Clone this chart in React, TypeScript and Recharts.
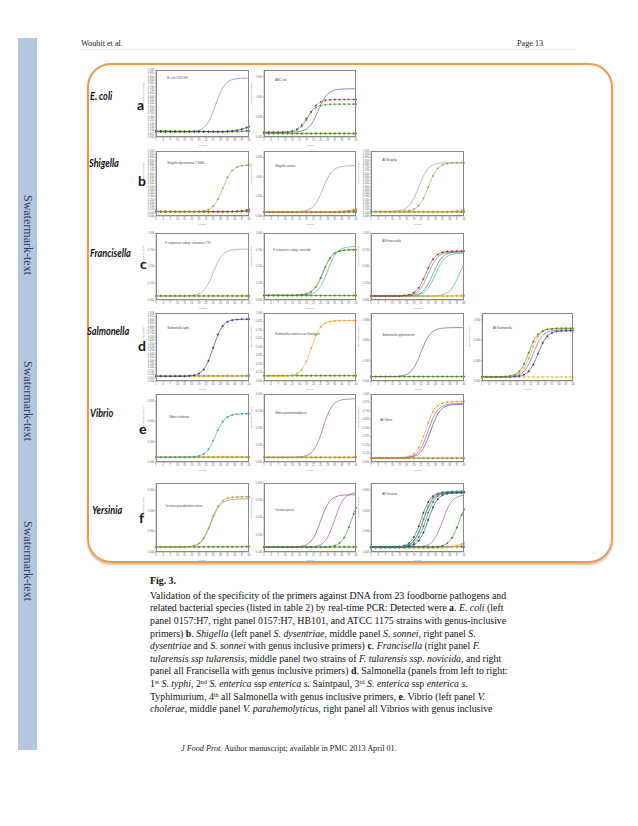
import React from 'react';
import { LineChart, Line, XAxis, YAxis } from 'recharts';

// qPCR amplification plots, Fig. 3 (Woubit et al.) – values are relative dRn
const CYCLES = [1, 3, 5, 7, 9, 11, 13, 15, 17, 19, 21, 23, 25, 27, 29, 31, 33, 35, 37, 39, 40];
const X_TICKS = [1, 4, 7, 10, 13, 16, 19, 22, 25, 28, 31, 34, 37, 40];

const Y_FINE = [0, 0.05, 0.1, 0.15, 0.2, 0.25, 0.3, 0.35, 0.4, 0.45, 0.5, 0.55, 0.6, 0.65, 0.7, 0.75, 0.8, 0.85, 0.9, 0.95, 1];
const Y_MID = [0, 0.125, 0.25, 0.375, 0.5, 0.625, 0.75, 0.875, 1];
const Y_QUAR = [0, 0.25, 0.5, 0.75, 1];
const Y_THIRD = [0, 0.3, 0.6, 0.9];

// a. E. coli
const A1_BLUE = [0.08, 0.08, 0.08, 0.08, 0.08, 0.08, 0.08, 0.082, 0.089, 0.103, 0.141, 0.226, 0.382, 0.578, 0.734, 0.819, 0.857, 0.871, 0.877, 0.879, 0.88];
const A1_NAVY_LATE = [0.08, 0.08, 0.08, 0.08, 0.08, 0.08, 0.08, 0.08, 0.08, 0.08, 0.08, 0.08, 0.08, 0.08, 0.08, 0.085, 0.09, 0.1, 0.115, 0.14, 0.155];
const A1_GREEN = [0.095, 0.093, 0.09, 0.088, 0.087, 0.086, 0.085, 0.085, 0.084, 0.084, 0.083, 0.083, 0.083, 0.082, 0.082, 0.082, 0.082, 0.083, 0.085, 0.088, 0.09];
const A1_YELLOW = [0.075, 0.075, 0.075, 0.075, 0.075, 0.075, 0.075, 0.075, 0.075, 0.075, 0.075, 0.075, 0.075, 0.075, 0.075, 0.075, 0.075, 0.078, 0.082, 0.088, 0.092];

const A2_BLUE = [0.07, 0.07, 0.07, 0.07, 0.07, 0.07, 0.07, 0.077, 0.089, 0.119, 0.188, 0.316, 0.474, 0.602, 0.671, 0.701, 0.713, 0.717, 0.719, 0.72, 0.72];
const A2_RED = [0.07, 0.07, 0.07, 0.07, 0.07, 0.075, 0.084, 0.107, 0.159, 0.255, 0.375, 0.471, 0.523, 0.546, 0.555, 0.558, 0.559, 0.56, 0.56, 0.56, 0.56];
const A2_GREEN = [0.07, 0.07, 0.07, 0.07, 0.073, 0.078, 0.09, 0.12, 0.183, 0.28, 0.377, 0.44, 0.47, 0.482, 0.487, 0.489, 0.49, 0.49, 0.49, 0.49, 0.49];
const A2_BASE_Y = [0.058, 0.058, 0.058, 0.058, 0.058, 0.058, 0.058, 0.058, 0.058, 0.058, 0.058, 0.058, 0.058, 0.058, 0.058, 0.058, 0.058, 0.058, 0.058, 0.058, 0.058];
const A2_BASE_G = [0.05, 0.05, 0.05, 0.05, 0.05, 0.05, 0.05, 0.05, 0.05, 0.05, 0.05, 0.05, 0.05, 0.05, 0.05, 0.05, 0.05, 0.05, 0.05, 0.05, 0.05];

// b. Shigella
const B1_OLIVE = [0.066, 0.066, 0.066, 0.066, 0.066, 0.066, 0.066, 0.066, 0.066, 0.071, 0.079, 0.1, 0.152, 0.26, 0.426, 0.592, 0.7, 0.752, 0.773, 0.781, 0.783];
const B1_RED = [0.066, 0.066, 0.066, 0.066, 0.066, 0.066, 0.066, 0.066, 0.066, 0.066, 0.066, 0.066, 0.066, 0.066, 0.066, 0.066, 0.068, 0.072, 0.08, 0.09, 0.1];
const B1_GREEN = [0.075, 0.073, 0.072, 0.071, 0.07, 0.07, 0.07, 0.07, 0.07, 0.07, 0.07, 0.07, 0.07, 0.07, 0.07, 0.07, 0.07, 0.07, 0.07, 0.07, 0.07];
const B1_YELLOW = [0.062, 0.062, 0.062, 0.062, 0.062, 0.062, 0.062, 0.062, 0.062, 0.062, 0.062, 0.062, 0.062, 0.062, 0.062, 0.062, 0.062, 0.062, 0.062, 0.062, 0.062];

const B2_GRAY = [0.065, 0.065, 0.065, 0.065, 0.065, 0.065, 0.065, 0.068, 0.073, 0.086, 0.119, 0.194, 0.333, 0.507, 0.646, 0.721, 0.754, 0.767, 0.772, 0.774, 0.775];
const B2_ORANGE = [0.065, 0.065, 0.065, 0.065, 0.065, 0.065, 0.065, 0.065, 0.065, 0.065, 0.065, 0.065, 0.065, 0.065, 0.065, 0.067, 0.07, 0.075, 0.085, 0.1, 0.115];
const B2_RED = [0.06, 0.06, 0.06, 0.06, 0.06, 0.06, 0.06, 0.06, 0.06, 0.06, 0.06, 0.06, 0.06, 0.06, 0.06, 0.06, 0.062, 0.066, 0.072, 0.08, 0.088];
const B2_GREEN = [0.06, 0.06, 0.06, 0.06, 0.06, 0.06, 0.06, 0.06, 0.06, 0.06, 0.06, 0.06, 0.06, 0.06, 0.06, 0.06, 0.06, 0.06, 0.06, 0.06, 0.06];

const B3_GRAY = [0.07, 0.07, 0.07, 0.07, 0.07, 0.075, 0.084, 0.105, 0.159, 0.272, 0.445, 0.618, 0.731, 0.785, 0.807, 0.815, 0.818, 0.819, 0.82, 0.82, 0.82];
const B3_OLIVE = [0.07, 0.07, 0.07, 0.07, 0.07, 0.07, 0.07, 0.075, 0.084, 0.105, 0.159, 0.272, 0.445, 0.618, 0.731, 0.785, 0.807, 0.815, 0.818, 0.819, 0.82];
const B3_ORANGE = [0.065, 0.065, 0.065, 0.065, 0.065, 0.065, 0.065, 0.065, 0.065, 0.065, 0.065, 0.065, 0.065, 0.065, 0.065, 0.065, 0.067, 0.071, 0.078, 0.09, 0.1];
const B3_GREEN = [0.065, 0.065, 0.065, 0.065, 0.065, 0.065, 0.065, 0.065, 0.065, 0.065, 0.065, 0.065, 0.065, 0.065, 0.065, 0.065, 0.065, 0.065, 0.065, 0.065, 0.065];
const B3_YELLOW = [0.06, 0.06, 0.06, 0.06, 0.06, 0.06, 0.06, 0.06, 0.06, 0.06, 0.06, 0.06, 0.06, 0.06, 0.06, 0.06, 0.06, 0.06, 0.06, 0.06, 0.06];

// c. Francisella
const C1_GRAY = [0.06, 0.06, 0.06, 0.06, 0.06, 0.06, 0.06, 0.065, 0.073, 0.093, 0.143, 0.248, 0.41, 0.572, 0.677, 0.727, 0.747, 0.755, 0.758, 0.759, 0.76];
const C1_GREEN = [0.062, 0.062, 0.062, 0.062, 0.062, 0.062, 0.062, 0.062, 0.062, 0.062, 0.062, 0.062, 0.062, 0.062, 0.062, 0.062, 0.062, 0.062, 0.062, 0.062, 0.062];
const C1_YELLOW = [0.056, 0.056, 0.056, 0.056, 0.056, 0.056, 0.056, 0.056, 0.056, 0.056, 0.056, 0.056, 0.056, 0.056, 0.056, 0.056, 0.056, 0.056, 0.056, 0.056, 0.056];

const C2_GREEN = [0.07, 0.07, 0.07, 0.07, 0.07, 0.07, 0.07, 0.072, 0.077, 0.09, 0.122, 0.194, 0.327, 0.493, 0.626, 0.698, 0.73, 0.743, 0.748, 0.749, 0.75];
const C2_YELLOW = [0.075, 0.075, 0.075, 0.075, 0.075, 0.075, 0.075, 0.075, 0.082, 0.097, 0.132, 0.21, 0.345, 0.51, 0.635, 0.7, 0.728, 0.74, 0.745, 0.747, 0.748];
const C2_TEAL = [0.07, 0.07, 0.07, 0.07, 0.07, 0.07, 0.07, 0.07, 0.07, 0.078, 0.091, 0.125, 0.203, 0.346, 0.524, 0.667, 0.745, 0.779, 0.792, 0.797, 0.798];
const C2_BASE_G = [0.068, 0.068, 0.068, 0.068, 0.068, 0.068, 0.068, 0.068, 0.068, 0.068, 0.068, 0.068, 0.068, 0.068, 0.068, 0.068, 0.068, 0.068, 0.068, 0.068, 0.068];
const C2_BASE_Y = [0.063, 0.063, 0.063, 0.063, 0.063, 0.063, 0.063, 0.063, 0.063, 0.063, 0.063, 0.063, 0.063, 0.063, 0.063, 0.063, 0.063, 0.063, 0.063, 0.063, 0.063];

const C3_RED = [0.06, 0.06, 0.06, 0.06, 0.06, 0.06, 0.06, 0.067, 0.079, 0.111, 0.182, 0.313, 0.477, 0.608, 0.679, 0.711, 0.723, 0.727, 0.729, 0.73, 0.73];
const C3_GREEN = [0.06, 0.06, 0.06, 0.06, 0.06, 0.06, 0.06, 0.064, 0.072, 0.091, 0.139, 0.238, 0.39, 0.542, 0.641, 0.689, 0.708, 0.716, 0.718, 0.719, 0.72];
const C3_TEAL = [0.06, 0.06, 0.06, 0.06, 0.06, 0.06, 0.06, 0.06, 0.06, 0.067, 0.079, 0.109, 0.176, 0.302, 0.458, 0.584, 0.651, 0.681, 0.693, 0.697, 0.698];
const C3_BLUE = [0.06, 0.06, 0.06, 0.06, 0.06, 0.06, 0.06, 0.06, 0.064, 0.072, 0.091, 0.139, 0.238, 0.39, 0.542, 0.641, 0.689, 0.708, 0.716, 0.718, 0.72];
const C3_TEAL_LATE = [0.06, 0.06, 0.06, 0.06, 0.06, 0.06, 0.06, 0.06, 0.06, 0.06, 0.06, 0.06, 0.06, 0.06, 0.067, 0.079, 0.109, 0.178, 0.306, 0.464, 0.535];
const C3_ORANGE = [0.06, 0.06, 0.06, 0.06, 0.06, 0.06, 0.06, 0.06, 0.06, 0.06, 0.06, 0.06, 0.06, 0.06, 0.06, 0.06, 0.062, 0.064, 0.067, 0.07, 0.072];
const C3_YELLOW = [0.055, 0.055, 0.055, 0.055, 0.055, 0.055, 0.055, 0.055, 0.055, 0.055, 0.055, 0.055, 0.055, 0.055, 0.055, 0.055, 0.055, 0.055, 0.055, 0.055, 0.055];

// d. Salmonella
const D1_NAVY = [0.07, 0.07, 0.07, 0.07, 0.07, 0.07, 0.07, 0.076, 0.085, 0.109, 0.17, 0.296, 0.49, 0.684, 0.81, 0.871, 0.895, 0.904, 0.908, 0.909, 0.91];
const D1_ORANGE = [0.07, 0.07, 0.07, 0.07, 0.07, 0.07, 0.07, 0.07, 0.07, 0.07, 0.07, 0.07, 0.07, 0.07, 0.07, 0.07, 0.07, 0.072, 0.076, 0.082, 0.09];
const D1_GREEN = [0.075, 0.075, 0.075, 0.075, 0.075, 0.075, 0.075, 0.075, 0.075, 0.075, 0.075, 0.075, 0.075, 0.075, 0.075, 0.075, 0.075, 0.075, 0.075, 0.075, 0.075];

const D2_ORANGE = [0.07, 0.07, 0.07, 0.07, 0.07, 0.076, 0.085, 0.109, 0.168, 0.291, 0.48, 0.669, 0.792, 0.851, 0.875, 0.884, 0.888, 0.889, 0.89, 0.89, 0.89];
const D2_GREEN = [0.08, 0.08, 0.08, 0.08, 0.08, 0.08, 0.08, 0.08, 0.08, 0.08, 0.08, 0.08, 0.08, 0.08, 0.08, 0.08, 0.08, 0.08, 0.08, 0.08, 0.08];
const D2_YELLOW = [0.074, 0.074, 0.074, 0.074, 0.074, 0.074, 0.074, 0.074, 0.074, 0.074, 0.074, 0.074, 0.074, 0.074, 0.074, 0.074, 0.074, 0.074, 0.074, 0.074, 0.074];

const D3_MAROON = [0.065, 0.065, 0.065, 0.065, 0.065, 0.065, 0.073, 0.086, 0.12, 0.196, 0.337, 0.513, 0.654, 0.73, 0.764, 0.777, 0.782, 0.784, 0.785, 0.785, 0.785];
const D3_GREEN = [0.066, 0.066, 0.066, 0.066, 0.066, 0.066, 0.066, 0.066, 0.066, 0.066, 0.066, 0.066, 0.066, 0.066, 0.066, 0.066, 0.066, 0.066, 0.066, 0.066, 0.066];
const D3_YELLOW = [0.062, 0.062, 0.062, 0.062, 0.062, 0.062, 0.062, 0.062, 0.062, 0.062, 0.062, 0.062, 0.062, 0.062, 0.062, 0.062, 0.062, 0.062, 0.062, 0.062, 0.062];

const D4_GREEN = [0.06, 0.06, 0.06, 0.06, 0.06, 0.065, 0.073, 0.093, 0.144, 0.251, 0.415, 0.579, 0.686, 0.737, 0.757, 0.765, 0.768, 0.769, 0.77, 0.77, 0.77];
const D4_YELLOW = [0.06, 0.06, 0.06, 0.06, 0.06, 0.06, 0.068, 0.081, 0.115, 0.191, 0.332, 0.508, 0.649, 0.725, 0.759, 0.772, 0.777, 0.779, 0.78, 0.78, 0.78];
const D4_PURPLE = [0.06, 0.06, 0.06, 0.06, 0.06, 0.06, 0.065, 0.072, 0.092, 0.142, 0.246, 0.405, 0.564, 0.668, 0.718, 0.738, 0.745, 0.748, 0.749, 0.75, 0.75];
const D4_NAVY = [0.06, 0.06, 0.06, 0.06, 0.06, 0.06, 0.06, 0.065, 0.072, 0.092, 0.141, 0.243, 0.4, 0.557, 0.659, 0.708, 0.728, 0.735, 0.738, 0.739, 0.74];
const D4_BASE = [0.058, 0.058, 0.058, 0.058, 0.058, 0.058, 0.058, 0.058, 0.058, 0.058, 0.058, 0.058, 0.058, 0.058, 0.058, 0.058, 0.058, 0.058, 0.058, 0.058, 0.058];

// e. Vibrio
const E1_TEAL = [0.07, 0.07, 0.07, 0.07, 0.07, 0.07, 0.07, 0.072, 0.077, 0.089, 0.119, 0.186, 0.312, 0.468, 0.594, 0.661, 0.691, 0.703, 0.707, 0.709, 0.71];
const E1_ORANGE = [0.076, 0.076, 0.076, 0.076, 0.076, 0.076, 0.076, 0.076, 0.076, 0.076, 0.076, 0.076, 0.076, 0.076, 0.076, 0.076, 0.076, 0.076, 0.076, 0.076, 0.076];
const E1_GREEN = [0.07, 0.07, 0.07, 0.07, 0.07, 0.07, 0.07, 0.07, 0.07, 0.07, 0.07, 0.07, 0.07, 0.07, 0.07, 0.07, 0.07, 0.07, 0.07, 0.07, 0.07];

const E2_PURPLE = [0.07, 0.07, 0.07, 0.07, 0.07, 0.07, 0.07, 0.073, 0.079, 0.095, 0.135, 0.227, 0.395, 0.605, 0.773, 0.865, 0.905, 0.92, 0.926, 0.929, 0.93];
const E2_ORANGE = [0.072, 0.072, 0.072, 0.072, 0.072, 0.072, 0.072, 0.072, 0.072, 0.072, 0.072, 0.072, 0.072, 0.072, 0.072, 0.072, 0.072, 0.072, 0.072, 0.072, 0.072];
const E2_GREEN = [0.066, 0.066, 0.066, 0.066, 0.066, 0.066, 0.066, 0.066, 0.066, 0.066, 0.066, 0.066, 0.066, 0.066, 0.066, 0.066, 0.066, 0.066, 0.066, 0.066, 0.066];

const E3_ORANGE = [0.06, 0.06, 0.06, 0.06, 0.06, 0.06, 0.06, 0.069, 0.084, 0.123, 0.211, 0.374, 0.576, 0.739, 0.827, 0.866, 0.881, 0.886, 0.888, 0.889, 0.89];
const E3_NAVY = [0.06, 0.06, 0.06, 0.06, 0.06, 0.06, 0.06, 0.06, 0.069, 0.083, 0.12, 0.204, 0.359, 0.551, 0.706, 0.79, 0.827, 0.841, 0.846, 0.848, 0.849];
const E3_PURPLE = [0.06, 0.06, 0.06, 0.06, 0.06, 0.06, 0.06, 0.065, 0.074, 0.098, 0.155, 0.275, 0.46, 0.645, 0.765, 0.822, 0.846, 0.854, 0.858, 0.859, 0.86];
const E3_BASE_O = [0.062, 0.062, 0.062, 0.062, 0.062, 0.062, 0.062, 0.062, 0.062, 0.062, 0.062, 0.062, 0.062, 0.062, 0.062, 0.062, 0.062, 0.062, 0.062, 0.062, 0.062];
const E3_BASE_G = [0.056, 0.056, 0.056, 0.056, 0.056, 0.056, 0.056, 0.056, 0.056, 0.056, 0.056, 0.056, 0.056, 0.056, 0.056, 0.056, 0.056, 0.056, 0.056, 0.056, 0.056];

// f. Yersinia
const F1_OLIVE = [0.07, 0.07, 0.07, 0.07, 0.07, 0.07, 0.07, 0.078, 0.091, 0.125, 0.203, 0.346, 0.524, 0.667, 0.745, 0.779, 0.792, 0.797, 0.799, 0.8, 0.8];
const F1_DARK = [0.07, 0.07, 0.07, 0.07, 0.07, 0.07, 0.07, 0.076, 0.088, 0.12, 0.195, 0.33, 0.5, 0.64, 0.715, 0.748, 0.762, 0.767, 0.769, 0.77, 0.77];
const F1_GREEN = [0.076, 0.076, 0.076, 0.076, 0.076, 0.076, 0.076, 0.076, 0.076, 0.076, 0.076, 0.076, 0.076, 0.076, 0.076, 0.076, 0.076, 0.076, 0.076, 0.076, 0.076];
const F1_YELLOW = [0.07, 0.07, 0.07, 0.07, 0.07, 0.07, 0.07, 0.07, 0.07, 0.07, 0.07, 0.07, 0.07, 0.07, 0.07, 0.07, 0.072, 0.075, 0.079, 0.084, 0.088];

const F2_RED = [0.07, 0.07, 0.07, 0.07, 0.07, 0.07, 0.07, 0.075, 0.084, 0.106, 0.16, 0.274, 0.45, 0.626, 0.74, 0.794, 0.816, 0.825, 0.828, 0.829, 0.83];
const F2_PURPLE = [0.07, 0.07, 0.07, 0.07, 0.07, 0.07, 0.07, 0.07, 0.07, 0.07, 0.075, 0.084, 0.108, 0.165, 0.285, 0.47, 0.655, 0.775, 0.832, 0.856, 0.861];
const F2_GREEN_LATE = [0.07, 0.07, 0.07, 0.07, 0.07, 0.07, 0.07, 0.07, 0.07, 0.07, 0.07, 0.07, 0.07, 0.07, 0.078, 0.092, 0.128, 0.21, 0.36, 0.55, 0.64];
const F2_BASE_G = [0.074, 0.074, 0.074, 0.074, 0.074, 0.074, 0.074, 0.074, 0.074, 0.074, 0.074, 0.074, 0.074, 0.074, 0.074, 0.074, 0.074, 0.074, 0.074, 0.074, 0.074];
const F2_BASE_Y = [0.068, 0.068, 0.068, 0.068, 0.068, 0.068, 0.068, 0.068, 0.068, 0.068, 0.068, 0.068, 0.068, 0.068, 0.068, 0.068, 0.068, 0.068, 0.068, 0.068, 0.068];

const F3_TEAL = [0.07, 0.07, 0.07, 0.07, 0.07, 0.07, 0.075, 0.085, 0.108, 0.166, 0.288, 0.475, 0.662, 0.784, 0.842, 0.865, 0.874, 0.878, 0.879, 0.88, 0.88];
const F3_BLACK = [0.07, 0.07, 0.07, 0.07, 0.07, 0.07, 0.079, 0.093, 0.131, 0.216, 0.372, 0.568, 0.724, 0.809, 0.847, 0.861, 0.867, 0.869, 0.87, 0.87, 0.87];
const F3_RED = [0.07, 0.07, 0.07, 0.07, 0.07, 0.07, 0.075, 0.084, 0.107, 0.164, 0.283, 0.465, 0.647, 0.766, 0.823, 0.845, 0.854, 0.857, 0.859, 0.86, 0.86];
const F3_GREEN = [0.07, 0.07, 0.07, 0.07, 0.07, 0.07, 0.07, 0.079, 0.093, 0.131, 0.216, 0.372, 0.568, 0.724, 0.809, 0.847, 0.861, 0.867, 0.869, 0.87, 0.87];
const F3_NAVY = [0.07, 0.07, 0.07, 0.07, 0.07, 0.07, 0.07, 0.075, 0.084, 0.107, 0.164, 0.283, 0.465, 0.647, 0.766, 0.823, 0.845, 0.854, 0.857, 0.859, 0.86];
const F3_PURPLE = [0.07, 0.07, 0.07, 0.07, 0.07, 0.07, 0.07, 0.07, 0.07, 0.07, 0.075, 0.084, 0.106, 0.16, 0.274, 0.45, 0.626, 0.74, 0.794, 0.816, 0.822];
const F3_GREEN_LATE = [0.07, 0.07, 0.07, 0.07, 0.07, 0.07, 0.07, 0.07, 0.07, 0.07, 0.07, 0.07, 0.07, 0.07, 0.077, 0.091, 0.127, 0.207, 0.353, 0.537, 0.618];
const F3_ORANGE = [0.06, 0.06, 0.06, 0.06, 0.06, 0.06, 0.06, 0.06, 0.06, 0.06, 0.06, 0.06, 0.06, 0.06, 0.06, 0.063, 0.068, 0.077, 0.092, 0.115, 0.13];
const F3_YELLOW = [0.065, 0.065, 0.065, 0.065, 0.065, 0.065, 0.065, 0.065, 0.065, 0.065, 0.065, 0.065, 0.065, 0.065, 0.065, 0.065, 0.068, 0.073, 0.082, 0.095, 0.105];
const F3_BASE_N = [0.076, 0.076, 0.076, 0.076, 0.076, 0.076, 0.076, 0.076, 0.076, 0.076, 0.076, 0.076, 0.076, 0.076, 0.076, 0.076, 0.076, 0.076, 0.076, 0.076, 0.076];

const NAVY = '#262a8c';
const BLUE = '#3a3db4';
const RED = '#a3282a';
const MAROON = '#8c2a4a';
const GREEN = '#2c8a2c';
const YELLOW = '#d6c23a';
const OLIVE = '#a99c3a';
const ORANGE = '#f2a01e';
const GRAY = '#8c8c8c';
const TEAL = '#2aa3a6';
const PURPLE = '#8e3a9e';
const BLACK = '#3a3a3a';

type S = { v: number[]; c: string; dot?: boolean; dash?: string };
type Panel = { col: number; row: number; title: string; tx: number; ty: number; yTicks: number[]; series: S[] };

const COL_X = [156, 264, 371, 482];
const COL_W = [93, 92, 93, 91];
const ROW_Y = [70, 151, 233, 313, 394, 483];
const ROW_H = [67, 65, 67, 68, 68, 69];

const PANELS: Panel[] = [
  { col: 0, row: 0, title: 'E. coli O157:H7', tx: 0.12, ty: 0.1, yTicks: Y_FINE, series: [
    { v: A1_YELLOW, c: YELLOW, dot: true }, { v: A1_GREEN, c: GREEN, dot: true },
    { v: A1_NAVY_LATE, c: NAVY, dot: true }, { v: A1_BLUE, c: BLUE, dash: '1.6 0.6' } ] },
  { col: 1, row: 0, title: 'ABC coli', tx: 0.12, ty: 0.13, yTicks: Y_THIRD, series: [
    { v: A2_BASE_Y, c: YELLOW, dot: true }, { v: A2_BASE_G, c: GREEN, dot: true },
    { v: A2_BLUE, c: BLUE }, { v: A2_RED, c: RED, dot: true, dash: '1.5 0.8' }, { v: A2_GREEN, c: GREEN, dot: true, dash: '1.5 0.8' } ] },
  { col: 0, row: 1, title: 'Shigella dysenteriae 1 3446', tx: 0.12, ty: 0.17, yTicks: Y_FINE, series: [
    { v: B1_YELLOW, c: YELLOW, dot: true }, { v: B1_GREEN, c: GREEN, dot: true },
    { v: B1_RED, c: RED, dot: true }, { v: B1_OLIVE, c: OLIVE, dot: true } ] },
  { col: 1, row: 1, title: 'Shigella sonnei', tx: 0.12, ty: 0.22, yTicks: Y_THIRD, series: [
    { v: B2_GREEN, c: GREEN, dot: true }, { v: B2_RED, c: RED, dot: true },
    { v: B2_ORANGE, c: ORANGE, dot: true }, { v: B2_GRAY, c: GRAY } ] },
  { col: 2, row: 1, title: 'All Shigella', tx: 0.12, ty: 0.12, yTicks: Y_FINE, series: [
    { v: B3_YELLOW, c: YELLOW, dot: true }, { v: B3_GREEN, c: GREEN, dot: true },
    { v: B3_ORANGE, c: ORANGE, dot: true }, { v: B3_GRAY, c: GRAY }, { v: B3_OLIVE, c: OLIVE, dot: true } ] },
  { col: 0, row: 2, title: 'F. tularensis subsp. tularensis 775', tx: 0.1, ty: 0.14, yTicks: Y_QUAR, series: [
    { v: C1_YELLOW, c: YELLOW, dot: true }, { v: C1_GREEN, c: GREEN, dot: true }, { v: C1_GRAY, c: GRAY } ] },
  { col: 1, row: 2, title: 'F. tularensis subsp. novicida', tx: 0.1, ty: 0.24, yTicks: Y_QUAR, series: [
    { v: C2_BASE_Y, c: YELLOW, dot: true }, { v: C2_BASE_G, c: GREEN, dot: true },
    { v: C2_TEAL, c: TEAL }, { v: C2_YELLOW, c: YELLOW }, { v: C2_GREEN, c: GREEN, dot: true } ] },
  { col: 2, row: 2, title: 'All Francisella', tx: 0.12, ty: 0.11, yTicks: Y_QUAR, series: [
    { v: C3_YELLOW, c: YELLOW, dot: true }, { v: C3_ORANGE, c: ORANGE, dot: true },
    { v: C3_TEAL_LATE, c: TEAL }, { v: C3_TEAL, c: TEAL }, { v: C3_BLUE, c: '#2a6f8a' },
    { v: C3_GREEN, c: GREEN }, { v: C3_RED, c: RED, dot: true } ] },
  { col: 0, row: 3, title: 'Salmonella typhi', tx: 0.12, ty: 0.2, yTicks: Y_FINE, series: [
    { v: D1_GREEN, c: GREEN, dot: true }, { v: D1_ORANGE, c: ORANGE, dot: true }, { v: D1_NAVY, c: NAVY, dot: true } ] },
  { col: 1, row: 3, title: 'Salmonella enterica ser Saintpaul', tx: 0.12, ty: 0.3, yTicks: Y_MID, series: [
    { v: D2_YELLOW, c: YELLOW, dot: true }, { v: D2_GREEN, c: GREEN, dot: true }, { v: D2_ORANGE, c: ORANGE, dot: true } ] },
  { col: 2, row: 3, title: 'Salmonella typhimurium', tx: 0.12, ty: 0.31, yTicks: Y_THIRD, series: [
    { v: D3_YELLOW, c: YELLOW, dot: true }, { v: D3_GREEN, c: GREEN, dot: true }, { v: D3_MAROON, c: MAROON } ] },
  { col: 3, row: 3, title: 'All Salmonella', tx: 0.12, ty: 0.21, yTicks: Y_THIRD, series: [
    { v: D4_BASE, c: YELLOW, dot: true }, { v: D4_NAVY, c: NAVY, dot: true }, { v: D4_PURPLE, c: PURPLE },
    { v: D4_YELLOW, c: ORANGE, dot: true }, { v: D4_GREEN, c: GREEN, dot: true } ] },
  { col: 0, row: 4, title: 'Vibrio cholerae', tx: 0.14, ty: 0.33, yTicks: Y_THIRD, series: [
    { v: E1_GREEN, c: GREEN, dot: true }, { v: E1_ORANGE, c: ORANGE, dot: true }, { v: E1_TEAL, c: TEAL, dot: true } ] },
  { col: 1, row: 4, title: 'Vibrio parahaemolyticus', tx: 0.12, ty: 0.26, yTicks: Y_QUAR, series: [
    { v: E2_GREEN, c: GREEN, dot: true }, { v: E2_ORANGE, c: ORANGE, dot: true }, { v: E2_PURPLE, c: PURPLE } ] },
  { col: 2, row: 4, title: 'All Vibrio', tx: 0.1, ty: 0.37, yTicks: Y_MID, series: [
    { v: E3_BASE_G, c: GREEN, dot: true }, { v: E3_BASE_O, c: ORANGE, dot: true },
    { v: E3_NAVY, c: NAVY }, { v: E3_PURPLE, c: PURPLE }, { v: E3_ORANGE, c: ORANGE, dot: true } ] },
  { col: 0, row: 5, title: 'Yersinia pseudotuberculosis', tx: 0.1, ty: 0.32, yTicks: Y_THIRD, series: [
    { v: F1_YELLOW, c: YELLOW, dot: true }, { v: F1_GREEN, c: GREEN, dot: true },
    { v: F1_DARK, c: '#7d7a55' }, { v: F1_OLIVE, c: OLIVE, dot: true } ] },
  { col: 1, row: 5, title: 'Yersinia pestis', tx: 0.12, ty: 0.37, yTicks: Y_QUAR, series: [
    { v: F2_BASE_Y, c: YELLOW, dot: true }, { v: F2_BASE_G, c: GREEN, dot: true },
    { v: F2_GREEN_LATE, c: GREEN, dot: true }, { v: F2_PURPLE, c: PURPLE }, { v: F2_RED, c: MAROON } ] },
  { col: 2, row: 5, title: 'All Yersinia', tx: 0.12, ty: 0.15, yTicks: Y_THIRD, series: [
    { v: F3_BASE_N, c: NAVY, dot: true }, { v: F3_YELLOW, c: YELLOW, dot: true }, { v: F3_ORANGE, c: ORANGE, dot: true },
    { v: F3_GREEN_LATE, c: GREEN, dot: true }, { v: F3_PURPLE, c: PURPLE }, { v: F3_NAVY, c: NAVY, dot: true },
    { v: F3_GREEN, c: GREEN, dot: true }, { v: F3_RED, c: RED }, { v: F3_BLACK, c: BLACK, dot: true },
    { v: F3_TEAL, c: TEAL, dot: true } ] },
];

const ROW_LABELS = [
  { name: 'E. coli', x: 90, base: 100, letter: 'a', lx: 137, lbase: 110 },
  { name: 'Shigella', x: 89, base: 167, letter: 'b', lx: 138, lbase: 186 },
  { name: 'Francisella', x: 90, base: 257, letter: 'c', lx: 140, lbase: 269 },
  { name: 'Salmonella', x: 87, base: 335, letter: 'd', lx: 138, lbase: 351 },
  { name: 'Vibrio', x: 90, base: 417, letter: 'e', lx: 139, lbase: 434 },
  { name: 'Yersinia', x: 92, base: 514, letter: 'f', lx: 139, lbase: 523 },
];

const YW = 15;
const XH = 11;
const MT = 2;
const MR = 2;
const TINY = { fontSize: 2.6, fill: '#666', fontFamily: 'Liberation Sans' };

function AmpPlot({ p }: { p: Panel }) {
  const x = COL_X[p.col];
  const y = ROW_Y[p.row];
  const w = COL_W[p.col];
  const h = ROW_H[p.row];
  const data = CYCLES.map((c, i) => {
    const row: Record<string, number> = { c };
    p.series.forEach((s, j) => { row['s' + j] = s.v[i]; });
    return row;
  });
  return (
    <div style={{ position: 'absolute', left: x - YW, top: y - MT, width: YW + w + MR, height: MT + h + XH }}>
      <LineChart width={YW + w + MR} height={MT + h + XH} data={data} margin={{ top: MT, right: MR, bottom: 0, left: 0 }}>
        <XAxis
          type="number" dataKey="c" domain={[1, 40]} ticks={X_TICKS} interval={0}
          tick={TINY} tickSize={1.2} tickMargin={0.5} height={XH}
          stroke="#777" strokeWidth={0.5}
          label={{ value: 'Cycles', position: 'insideBottom', offset: 2, fontSize: 2.8, fill: '#666' }}
        />
        <YAxis
          type="number" domain={[0, 1]} ticks={p.yTicks} interval={0} width={YW}
          tick={TINY} tickSize={1.2} tickMargin={0.5} tickFormatter={(v: number) => v.toFixed(3)}
          stroke="#777" strokeWidth={0.5}
          label={{ value: 'Fluorescence (dRn)', angle: -90, position: 'insideLeft', offset: 2, fontSize: 2.6, fill: '#666' }}
        />
        {p.series.map((s, j) => (
          <Line
            key={j} type="monotone" dataKey={'s' + j} stroke={s.c} strokeWidth={0.6}
            strokeDasharray={s.dash}
            dot={s.dot ? { r: 0.8, fill: s.c, stroke: s.c, strokeWidth: 0.3 } : false}
            isAnimationActive={false}
          />
        ))}
      </LineChart>
      <div style={{ position: 'absolute', left: YW, top: MT, width: w, height: h, border: '0.6px solid #888', boxSizing: 'border-box', pointerEvents: 'none' }} />
      <div style={{ position: 'absolute', left: YW + p.tx * w, top: MT + p.ty * h, fontSize: 3, lineHeight: 1, fontFamily: 'Liberation Sans', color: '#444', whiteSpace: 'nowrap' }}>
        {p.title}
      </div>
    </div>
  );
}

const CAP_FS = 9.85;
const CAP_LINES: React.ReactNode[] = [
  <>Validation of the specificity of the primers against DNA from 23 foodborne pathogens and</>,
  <>related bacterial species (listed in table 2) by real-time PCR: Detected were <b>a</b>. <i>E. coli</i> (left</>,
  <>panel 0157:H7, right panel 0157:H7, HB101, and ATCC 1175 strains with genus-inclusive</>,
  <>primers) <b>b</b>. <i>Shigella</i> (left panel <i>S. dysentriae</i>, middle panel <i>S. sonnei</i>, right panel <i>S.</i></>,
  <><i>dysentriae</i> and <i>S. sonnei</i> with genus inclusive primers) <b>c</b>. <i>Francisella</i> (right panel <i>F.</i></>,
  <><i>tularensis ssp tularensis</i>, middle panel two strains of <i>F. tularensis ssp. novicida</i>, and right</>,
  <>panel all Francisella with genus inclusive primers) <b>d</b>. Salmonella (panels from left to right:</>,
  <>1<sup>st</sup> <i>S. typhi</i>, 2<sup>nd</sup> <i>S. enterica</i> ssp <i>enterica s.</i> Saintpaul, 3<sup>rd</sup> <i>S. enterica</i> ssp <i>enterica s.</i></>,
  <>Typhimurium, 4<sup>th</sup> all Salmonella with genus inclusive primers, <b>e</b>. Vibrio (left panel <i>V.</i></>,
  <><i>cholerae</i>, middle panel <i>V. parahemolyticus</i>, right panel all Vibrios with genus inclusive</>,
];

const SERIF = '"Liberation Serif", "Times New Roman", serif';
const supStyle = `sup{font-size:0.62em;line-height:0;vertical-align:0.55em}`;

export default function App() {
  return (
    <div style={{ position: 'absolute', left: 0, top: 0, width: 638, height: 826, background: '#fff', overflow: 'hidden', fontFamily: SERIF }}>
      <style>{supStyle}</style>
      {/* left manuscript band */}
      <div style={{ position: 'absolute', left: 18, top: 38, width: 19, height: 712, background: '#b5c7df' }} />
      {[235, 401, 561].map((cy) => (
        <div key={cy} style={{ position: 'absolute', left: 21, top: cy - 44, height: 88, width: 14, writingMode: 'vertical-rl', fontSize: 12, lineHeight: '14px', color: '#2a3a62', textAlign: 'center', fontFamily: SERIF, whiteSpace: 'nowrap' }}>
          Swatermark-text
        </div>
      ))}

      {/* header */}
      <div style={{ position: 'absolute', left: 81, top: 46.5 - 0.84 * 8.2, fontSize: 8.2, lineHeight: 1, color: '#222' }}>Woubit et al.</div>
      <div style={{ position: 'absolute', left: 517, top: 46.5 - 0.84 * 8.2, fontSize: 8.2, lineHeight: 1, color: '#222' }}>Page 13</div>
      <div style={{ position: 'absolute', left: 80, top: 49, width: 495, height: 0.6, background: '#ececec' }} />

      {/* orange frame around the figure */}
      <div style={{ position: 'absolute', left: 87, top: 63, width: 526, height: 500, border: '2.6px solid #ee9a52', borderRadius: 24, boxSizing: 'border-box', boxShadow: '0 1.5px 2px rgba(120,80,40,0.35)' }} />

      {ROW_LABELS.map((r) => (
        <React.Fragment key={r.letter}>
          <div style={{ position: 'absolute', left: r.x, top: r.base - 0.887 * 10.5, fontFamily: 'Lato', fontWeight: 700, fontStyle: 'italic', fontSize: 10.5, lineHeight: 1, color: '#111', whiteSpace: 'nowrap', transform: 'scaleX(0.87)', transformOrigin: 'left center' }}>{r.name}</div>
          <div style={{ position: 'absolute', left: r.lx, top: r.lbase - 0.887 * 14, fontFamily: 'Lato', fontWeight: 700, fontSize: 14, lineHeight: 1, color: '#111' }}>{r.letter}</div>
        </React.Fragment>
      ))}

      {PANELS.map((p, i) => <AmpPlot key={i} p={p} />)}

      {/* caption */}
      <div style={{ position: 'absolute', left: 150, top: 584 - 0.84 * CAP_FS, fontSize: CAP_FS, lineHeight: 1, fontWeight: 700, color: '#111' }}>Fig. 3.</div>
      {CAP_LINES.map((ln, i) => (
        <div key={i} style={{ position: 'absolute', left: 150, top: 599 + 12.6 * i - 0.84 * CAP_FS, fontSize: CAP_FS, lineHeight: 1, color: '#111', whiteSpace: 'nowrap' }}>{ln}</div>
      ))}

      {/* footer */}
      <div style={{ position: 'absolute', left: 181, top: 752 - 0.84 * 8.2, fontSize: 8.2, lineHeight: 1, color: '#222', whiteSpace: 'nowrap' }}>
        <i>J Food Prot</i>. Author manuscript; available in PMC 2013 April 01.
      </div>
    </div>
  );
}
